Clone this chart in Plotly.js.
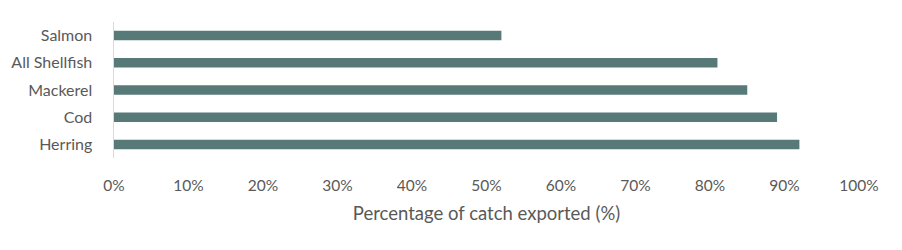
<!DOCTYPE html>
<html>
<head>
<meta charset="utf-8">
<script src="https://cdn.plot.ly/plotly-3.0.1.min.js"></script>
<style>html,body{margin:0;padding:0;background:#fff;}#chart{width:902px;height:250px;}</style>
</head>
<body>
<div id="chart"></div>
<script>
const categories = ["Salmon", "All Shellfish", "Mackerel", "Cod", "Herring"];
const exportedPct = [52, 81, 85, 89, 92];
const tickValues = [0, 10, 20, 30, 40, 50, 60, 70, 80, 90, 100];
const tickLabels = ["0%", "10%", "20%", "30%", "40%", "50%", "60%", "70%", "80%", "90%", "100%"];
const xTitle = "Percentage of catch exported (%)";

const fontFam = "Lato, 'Open Sans', sans-serif";
Plotly.newPlot("chart", [{
  type: "bar",
  orientation: "h",
  y: categories,
  x: exportedPct,
  marker: {color: "#577a79"},
  hoverinfo: "x+y"
}], {
  width: 902, height: 250,
  margin: {l: 114, r: 43, t: 22, b: 92},
  paper_bgcolor: "#fff", plot_bgcolor: "#fff",
  bargap: 0.65,
  showlegend: false,
  font: {family: fontFam, color: "#595959", size: 15},
  xaxis: {
    range: [0, 100], tickvals: tickValues, ticktext: tickLabels,
    showgrid: false, zeroline: false, showline: false,
    ticks: "", ticklabelstandoff: 16,
    tickfont: {size: 15.5, color: "#595959", family: fontFam},
    title: {text: xTitle, font: {size: 18.5, color: "#595959", family: fontFam}, standoff: 14}
  },
  yaxis: {
    categoryorder: "array", categoryarray: categories, autorange: "reversed",
    showgrid: false, zeroline: false, showline: true, linecolor: "#d9d9d9", linewidth: 1.5,
    ticks: "", ticklabelstandoff: 17,
    tickfont: {size: 16, color: "#595959", family: fontFam}
  }
}, {displayModeBar: false, staticPlot: true});
</script>
</body>
</html>
